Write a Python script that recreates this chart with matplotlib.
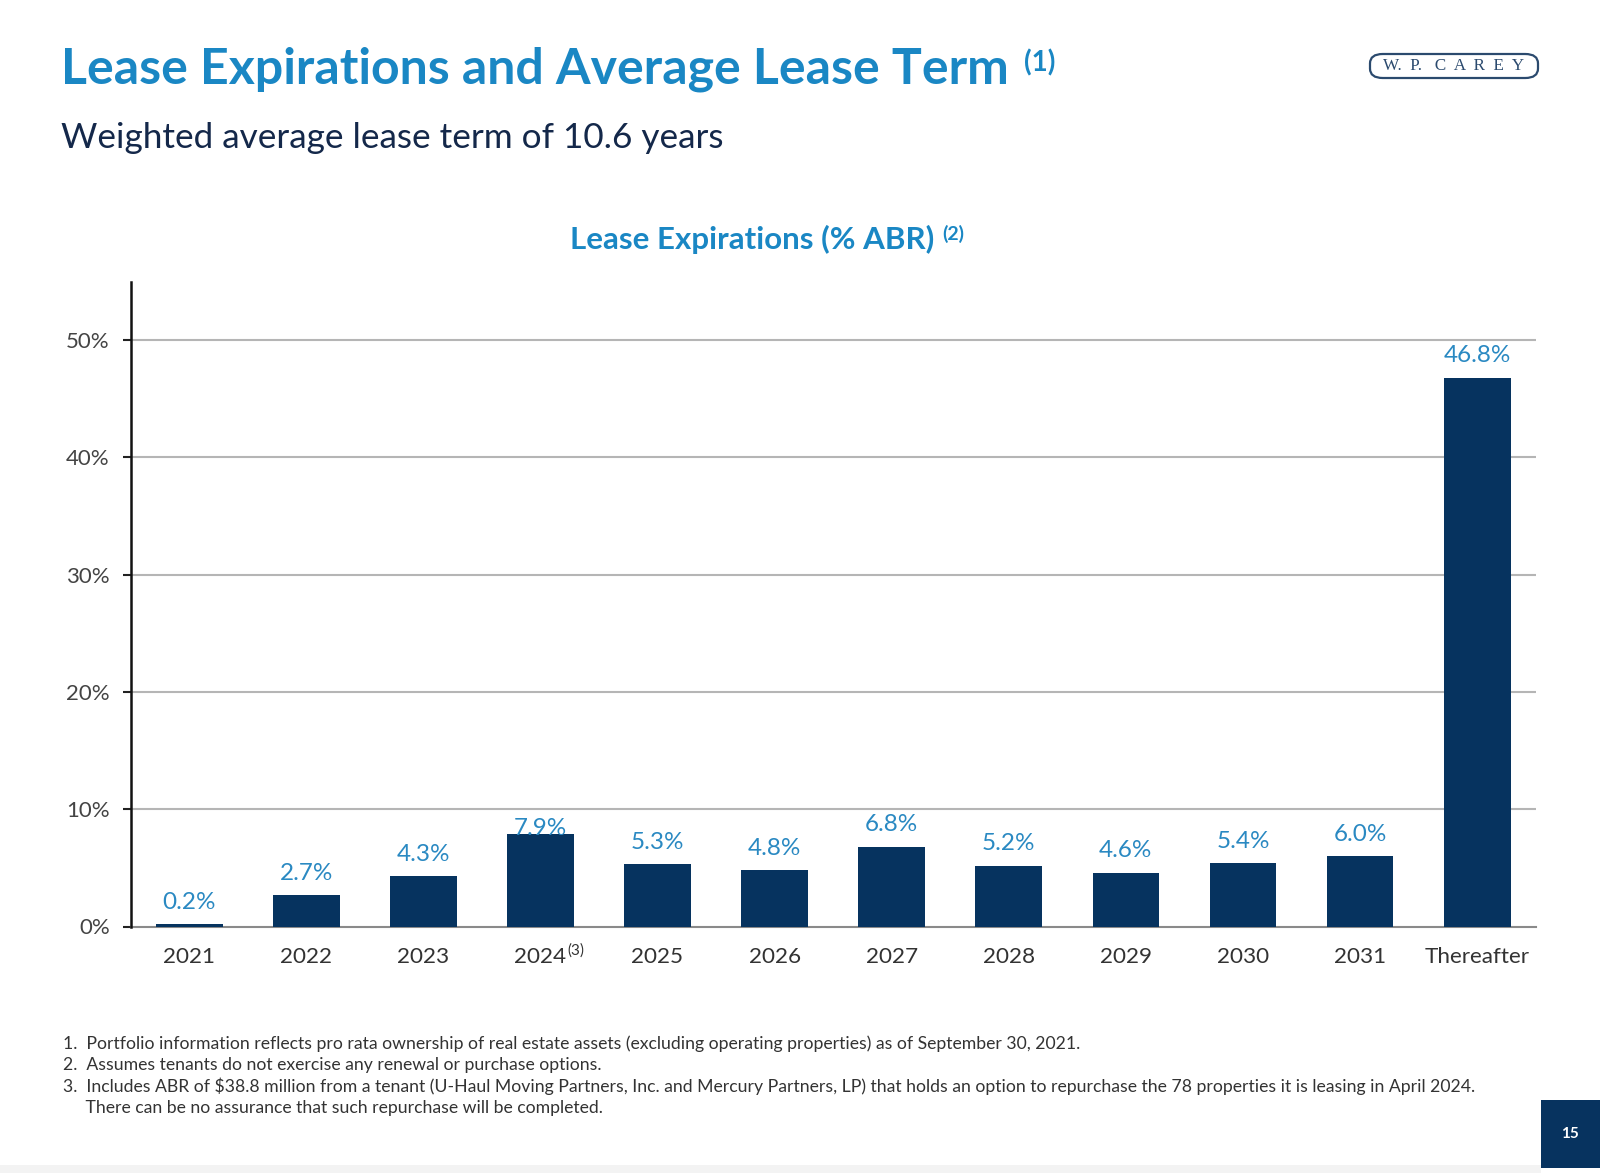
import matplotlib
matplotlib.use("Agg")
import matplotlib.pyplot as plt
from matplotlib.patches import FancyBboxPatch, Rectangle

categories = ["2021", "2022", "2023", "2024", "2025", "2026", "2027", "2028",
              "2029", "2030", "2031", "Thereafter"]
values = [0.2, 2.7, 4.3, 7.9, 5.3, 4.8, 6.8, 5.2, 4.6, 5.4, 6.0, 46.8]
value_labels = ["0.2%", "2.7%", "4.3%", "7.9%", "5.3%", "4.8%", "6.8%", "5.2%",
                "4.6%", "5.4%", "6.0%", "46.8%"]
yticks = [0, 10, 20, 30, 40, 50]
ytick_labels = ["0%", "10%", "20%", "30%", "40%", "50%"]
footnotes = [
    "1.  Portfolio information reflects pro rata ownership of real estate assets (excluding operating properties) as of September 30, 2021.",
    "2.  Assumes tenants do not exercise any renewal or purchase options.",
    "3.  Includes ABR of $38.8 million from a tenant (U-Haul Moving Partners, Inc. and Mercury Partners, LP) that holds an option to repurchase the 78 properties it is leasing in April 2024.",
    "     There can be no assurance that such repurchase will be completed.",
]

plt.rcParams['font.family'] = ['Lato', 'DejaVu Sans']

W, H = 1600, 1173
fig = plt.figure(figsize=(W / 100, H / 100), dpi=100)
fig.patch.set_facecolor("white")

BLUE = "#1A87C4"
NAVY = "#06335F"
LABEL_BLUE = "#2A89C2"

def fx(px):
    return px / W

def fy(py):
    return 1 - py / H

renderer = fig.canvas.get_renderer()

def right_edge_px(t):
    bb = t.get_window_extent(renderer=renderer)
    return bb.x1

# Titles
t1 = fig.text(fx(61), fy(84), "Lease Expirations and Average Lease Term", color=BLUE,
              fontsize=36, fontweight="bold", va="baseline", ha="left")
fig.text((right_edge_px(t1) + 15) / W, fy(71), "(1)", color=BLUE, fontsize=20,
         fontweight="bold", va="baseline", ha="left")
fig.text(fx(61), fy(148), "Weighted average lease term of 10.6 years", color="#14284A",
         fontsize=25.3, va="baseline", ha="left")
t2 = fig.text(fx(752), fy(249), "Lease Expirations (% ABR)", color=BLUE,
              fontsize=22.5, fontweight="bold", va="baseline", ha="center")
fig.text((right_edge_px(t2) + 8) / W, fy(240), "(2)", color=BLUE, fontsize=14,
         fontweight="bold", va="baseline", ha="left")

# Logo
logo = FancyBboxPatch((fx(1370), fy(78)), fx(1538) - fx(1370), fy(54) - fy(78),
                      boxstyle="round,pad=0,rounding_size=0.008",
                      transform=fig.transFigure, facecolor="white",
                      edgecolor="#2B4A6E", linewidth=1.6)
fig.add_artist(logo)
fig.text(fx(1454), fy(66.5), "W.  P.   C  A  R  E  Y", color="#2B4A6E", fontsize=12.3,
         family=["Liberation Serif", "DejaVu Serif"], va="center", ha="center")

# Axes
ax = fig.add_axes([fx(130.6), fy(926.5), fx(1535.7) - fx(130.6), fy(281.6) - fy(926.5)])
x = list(range(len(categories)))
ax.bar(x, values, width=0.57, color=NAVY, zorder=3)
ax.set_xlim(-0.5, 11.5)
ax.set_ylim(0, 55)

ax.set_yticks(yticks)
ax.set_yticklabels(ytick_labels)
for t in yticks[1:]:
    ax.axhline(t, color="#B5B5B5", linewidth=1.5, zorder=1)

ax.set_xticks(x)
ax.set_xticklabels(categories)
ax.tick_params(axis="x", length=0, pad=14.5, labelsize=16.2, labelcolor="#333333")
ax.tick_params(axis="y", length=6, width=1.5, pad=9, labelsize=16, labelcolor="#444444",
               color="#222222")

for s in ["top", "right"]:
    ax.spines[s].set_visible(False)
ax.spines["left"].set_color("#111111")
ax.spines["left"].set_linewidth(1.8)
ax.spines["bottom"].set_color("#8A8A8A")
ax.spines["bottom"].set_linewidth(1.5)
ax.spines["left"].set_zorder(4)

# value labels
for i, (v, lab) in enumerate(zip(values, value_labels)):
    off = -1 if categories[i] == "2024" else 11
    ax.annotate(lab, xy=(i, v), xytext=(0, off), textcoords="offset points",
                ha="center", va="baseline", fontsize=17.5, color=LABEL_BLUE, zorder=5)

# superscript on 2024
fig.canvas.draw()
lbl = ax.get_xticklabels()[categories.index("2024")]
bb = lbl.get_window_extent(renderer=renderer)
fig.text((bb.x1 + 1) / W, (bb.y1 + 3) / H, "(3)", fontsize=11, color="#333333",
         ha="left", va="top")

# Footnotes
ys = [1049, 1070, 1092, 1113]
for yy, txt in zip(ys, footnotes):
    fig.text(fx(63), fy(yy), txt, fontsize=12.7, color="#333333", va="baseline", ha="left")

# Page number box
fig.add_artist(Rectangle((fx(1541), fy(1168)), fx(1600) - fx(1541), fy(1100) - fy(1168),
                         transform=fig.transFigure, facecolor="#07335F", edgecolor="none"))
fig.text(fx(1570), fy(1134), "15", color="white", fontsize=11, fontweight="bold",
         ha="center", va="center")

# bottom light band
fig.add_artist(Rectangle((0, 0), fx(1541), fy(1165), transform=fig.transFigure,
                         facecolor="#F3F3F3", edgecolor="none", zorder=0))

fig.savefig("out.png", dpi=100, facecolor="white")
